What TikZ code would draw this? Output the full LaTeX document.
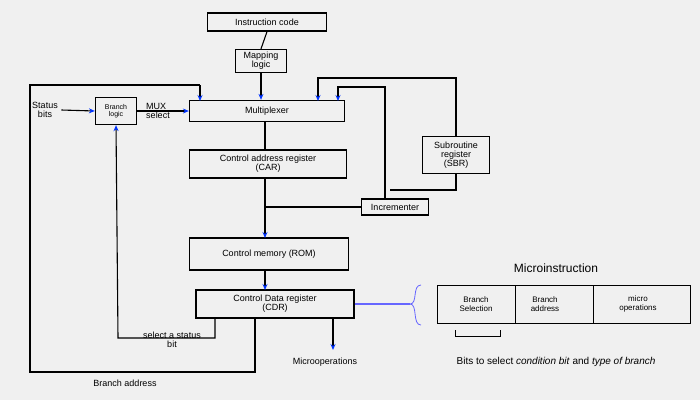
\documentclass[tikz,border=0pt]{standalone}
\usepackage{fontspec}
\setmainfont{Liberation Sans}
\usetikzlibrary{arrows.meta}
\begin{document}
\begin{tikzpicture}[x=1pt,y=-1pt,
  box/.style={draw,line width=1.3pt,inner sep=0pt,font=\fontsize{9}{9}\selectfont,align=center},
  ln/.style={line width=1.1pt},
  ar/.style={ln,-{Stealth[length=6pt,width=5pt,color=blue!80!cyan]}},
  lab/.style={font=\fontsize{9}{9}\selectfont,align=center}]
\fill[gray!12] (0,0) rectangle (700,400);
\useasboundingbox (0,0) rectangle (700,400);
\node[box,minimum width=119,minimum height=18] (ic) at (267,22) {Instruction code};
\node[box,minimum width=51,minimum height=23] (map) at (261,61) {Mapping\\logic};
\node[box,minimum width=155,minimum height=21] (mux) at (267,111) {Multiplexer};
\node[box,minimum width=41,minimum height=27,font=\fontsize{7}{7}\selectfont] (bl) at (116,111) {Branch\\logic};
\node[box,minimum width=157,minimum height=28] (car) at (268,164) {Control address register\\(CAR)};
\node[box,minimum width=67,minimum height=37] (sbr) at (456,155) {Subroutine\\register\\(SBR)};
\node[box,minimum width=67,minimum height=16] (inc) at (395,207) {Incrementer};
\node[box,minimum width=159,minimum height=32] (rom) at (269,254) {Control memory (ROM)};
\node[box,minimum width=158,minimum height=28] (cdr) at (275,304) {Control Data register\\(CDR)};
\node[lab] (sb) at (45,110) {Status\\bits};
\node[lab,align=left] (ms) at (158,111) {MUX\\select};
\node[font=\fontsize{12}{12}\selectfont] (mi) at (556,268) {Microinstruction};
\draw[line width=0.8pt] (437,285) rectangle (690,323);
\draw[line width=0.8pt] (515,285)--(515,323) (593,285)--(593,323);
\node[lab,font=\fontsize{8}{9}\selectfont] (t1) at (476,304) {Branch\\Selection};
\node[lab,font=\fontsize{8}{9}\selectfont] (t2) at (545,304) {Branch\\address};
\node[lab,font=\fontsize{8}{9}\selectfont] (t3) at (638,304) {micro\\operations};
\draw[line width=0.8pt,blue!60] (421,285) .. controls (412,285) and (418,304) .. (410,304) .. controls (418,304) and (412,325) .. (421,325);
\coordinate (br) at (410,304);
\draw[ln,blue!60] (cdr.east) -- (br);
\draw[line width=0.8pt] (455,330)--(455,336)--(500,336)--(500,330);
\node[lab] (sel) at (172,340) {select a status\\bit};
\node[lab] (mo) at (325,362) {Microoperations};
\node[font=\fontsize{10}{10}\selectfont] (bits) at (556,362) {Bits to select \textit{condition bit} and \textit{type of branch}};
\node[lab] (ba) at (125,383) {Branch address};
% connections
\draw[ln] (ic.south)--(map.north);
\draw[ar] (map.south)--(map.south|-mux.north);
\draw[ar] (sb.east)--(bl.west);
\draw[ar] (bl.east)--(mux.west);
\draw[ln] (mux.south-|265,0)--(265,150);
\draw[ar] (265,178)--(265,238);
\draw[ar] (rom.south-|265,0)--(265,290);
\draw[ln] (265,207)--(inc.west);
\draw[ar] (385,199)--(385,87)--(338,87)--(338,101);
\draw[ln] (390,190)--(456,190)--(sbr.south);
\draw[ar] (sbr.north)--(456,78)--(318,78)--(318,101);
\draw[ar] (215,318)--(215,338)--(118,338)--(bl.south);
\draw[ln] (255,318)--(255,372)--(30,372)--(30,85)--(200,85);
\draw[ar] (200,85)--(200,101);
\draw[ar] (333,318)--(333,350);
\end{tikzpicture}
\end{document}
